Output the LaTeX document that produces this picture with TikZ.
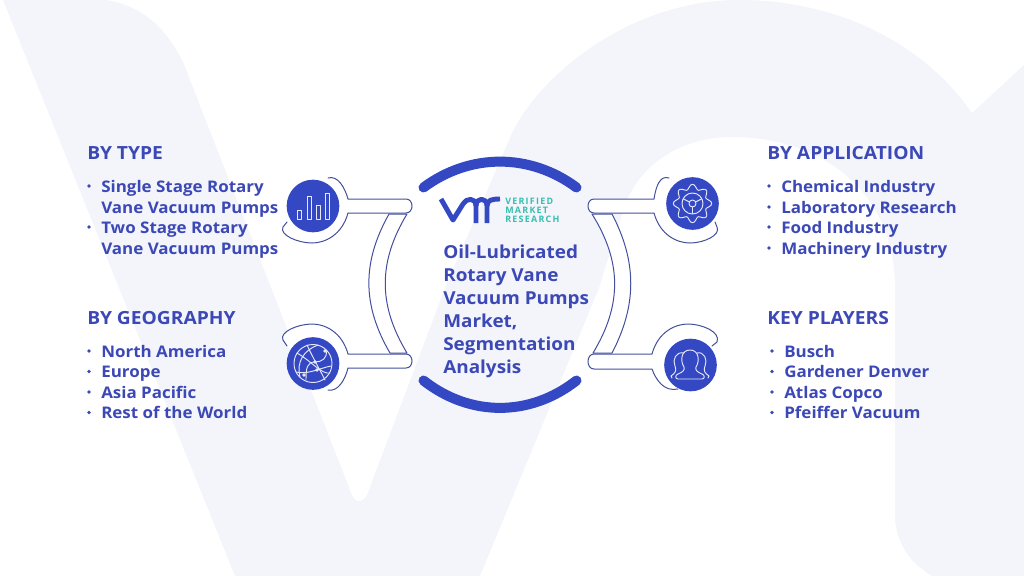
\documentclass[tikz,border=0pt]{standalone}
\usepackage{fontspec}
\setmainfont{Open Sans}[BoldFont=* Bold, FakeStretch=1.06]
\newfontfamily\logofont[LetterSpace=14]{Open Sans}
\definecolor{paleback}{HTML}{F3F5FB}
\definecolor{ink}{HTML}{3B48B6}
\definecolor{discblue}{HTML}{3448C4}
\definecolor{wire}{HTML}{444F9C}
\definecolor{brandteal}{HTML}{35BFAE}
\tikzset{
    head/.style={anchor=base west, inner sep=0pt, text=ink, font=\bfseries\fontsize{13.6}{15}\selectfont},
    item/.style={anchor=base west, inner sep=0pt, text=ink, font=\bfseries\fontsize{12}{14}\selectfont},
    title/.style={anchor=base west, inner sep=0pt, text=ink, font=\bfseries\fontsize{13.4}{16}\selectfont},
    brand/.style={anchor=base west, inner sep=0pt, text=brandteal, font=\logofont\bfseries\fontsize{6.7}{7}\selectfont},
    disc/.style={circle, fill=discblue, inner sep=0pt, minimum size=39.5pt},
    wireline/.style={draw=wire, line width=0.75pt, line cap=round, line join=round},
    icon/.style={draw=white!88!discblue, line width=0.7pt, line join=round, line cap=round}
}
\begin{document}
\begin{tikzpicture}[x=0.75pt, y=-0.75pt]
    \clip (0,0) rectangle (1024,576);

    % watermark
    \fill[paleback] (3,0) -- (105,0) .. controls (145,5) and (175,35) .. (190,80) -- (350,490)
        .. controls (354,504) and (362,504) .. (367,495) -- (445,288) -- (512,133)
        .. controls (540,75) and (630,0) .. (739,0) .. controls (840,0) and (925,45) .. (972,113)
        -- (1024,65) -- (1024,576) -- (932,576) .. controls (908,562) and (895,540) .. (895,515)
        -- (895,288) .. controls (895,190) and (820,137) .. (732,137)
        .. controls (680,137) and (640,165) .. (625,205) -- (599,288) -- (480,576) -- (235,576) -- cycle;

    % left brackets
    \filldraw[wireline, fill=white] (389,214) .. controls (362,262) and (362,305) .. (390,353)
        -- (407,353) .. controls (378,305) and (378,262) .. (407,214) -- cycle;
    \filldraw[wireline, fill=white] (328,178) .. controls (338,175) and (345,188) .. (348,199) -- (406,199)
        .. controls (414,199) and (414,213) .. (406,213) -- (348,213)
        .. controls (342,235) and (325,243) .. (312,243) .. controls (298,243) and (279,235) .. (283,227)
        -- (287,222);
    \filldraw[wireline, fill=white] (328,390) .. controls (338,392) and (345,380) .. (348,368) -- (406,368)
        .. controls (414,368) and (414,354) .. (406,354) -- (348,354)
        .. controls (342,332) and (325,324) .. (312,324) .. controls (298,324) and (279,332) .. (283,340)
        -- (287,346);

    % right brackets
    \filldraw[wireline, fill=white] (592,214) .. controls (622,262) and (622,305) .. (593,353)
        -- (612,353) .. controls (637,305) and (637,262) .. (612,214) -- cycle;
    \filldraw[wireline, fill=white] (669,178) .. controls (660,175) and (656,186) .. (654,199) -- (594,199)
        .. controls (586,199) and (586,213) .. (594,213) -- (654,213)
        .. controls (660,235) and (677,243) .. (690,243) .. controls (704,243) and (721,235) .. (717,227)
        -- (715,222);
    \filldraw[wireline, fill=white] (678,389) .. controls (664,392) and (656,380) .. (652,369) -- (594,369)
        .. controls (586,369) and (586,354) .. (594,354) -- (652,354)
        .. controls (658,332) and (675,324) .. (688,324) .. controls (702,324) and (721,332) .. (717,342)
        -- (712,346);

    % discs
    \node[disc] (D1) at (313,206) {};
    \node[disc] (D2) at (313,363.5) {};
    \node[disc] (D3) at (692.5,203.5) {};
    \node[disc] (D4) at (690.5,365) {};

    % bars
    \draw[icon] (297,210) rectangle (301,219);
    \draw[icon] (307,196) rectangle (311,219);
    \draw[icon] (316,205) rectangle (320,219);
    \draw[icon] (325,193) rectangle (329,219);

    % globe
    \draw[icon] (D2.center) circle (19);
    \draw[icon] (297,353) .. controls (310,360) and (322,375) .. (330,373);
    \draw[icon] (307,345) .. controls (313,358) and (320,370) .. (325,380);
    \draw[icon] (318,345) .. controls (304,350) and (296,362) .. (300,377);
    \draw[icon] (326,350) .. controls (328,358) and (322,362) .. (315,362) .. controls (307,362) and (306,368) .. (306,380);
    \draw[icon] (296,372) .. controls (308,375) and (320,368) .. (331,366);
    \fill[white!88!discblue] (315,362) circle (1.8) (325,351) circle (1.8) (317,370) circle (1.8) (304,375) circle (1.8);

    % gear
    \draw[icon, shift={(D3.center)}] plot[smooth, domain=0:360, samples=73] (\x:{16.8+2.4*cos(8*\x)}) -- cycle;
    \draw[icon] (D3.center) circle (10.5);
    \draw[icon] (D3.center) circle (3.5);
    \draw[icon] (683.5,199) -- (689.5,202) (701.5,199) -- (695.5,202) (692.5,207) -- (692.5,213.5);

    % people
    \draw[icon] (678,379) -- (702,379) .. controls (705,379) and (705,375) .. (702,374)
        .. controls (697,372) and (695,370) .. (696,367) .. controls (700,361) and (699,350) .. (690,350)
        .. controls (681,350) and (680,361) .. (684,367) .. controls (685,370) and (683,372) .. (678,374)
        .. controls (675,375) and (675,379) .. (678,379);
    \draw[icon] (684,353) .. controls (676,351) and (672,360) .. (675,366) .. controls (677,371) and (675,373) .. (671,376) -- (672,378);
    \draw[icon] (697,353) .. controls (704,351) and (708,360) .. (705,366) .. controls (703,371) and (705,373) .. (709,376) -- (708,378);

    % centre arcs
    \draw[draw=discblue, line width=7.5pt, line cap=round] (423.5,187.5) .. controls (470,153) and (530,153) .. (576.5,187.5);
    \draw[draw=discblue, line width=7.5pt, line cap=round] (423.5,380.5) .. controls (470,417) and (530,417) .. (576.5,380.5);

    % logo
    \draw[draw=discblue, line width=3.7pt, line join=round] (441,199) -- (453,220) -- (463,204)
        .. controls (466,198) and (476,197) .. (476,206) -- (476,223);
    \draw[draw=discblue, line width=3.7pt, line join=round] (476,206) .. controls (476,197) and (487,197) .. (487,206) -- (487,223);
    \draw[draw=discblue, line width=3.7pt] (487,206) .. controls (487,200) and (492,199) .. (500,199);
    \node[brand] (V) at (505,204) {VERIFIED};
    \node[brand] (M) at (505,213) {MARKET};
    \node[brand] (R) at (505,222) {RESEARCH};

    % title
    \node[title] (T1) at (443,258) {Oil-Lubricated};
    \node[title] (T2) at (443,281) {Rotary Vane};
    \node[title] (T3) at (443,304) {Vacuum Pumps};
    \node[title] (T4) at (443,327.5) {Market,};
    \node[title] (T5) at (443,350.5) {Segmentation};
    \node[title] (T6) at (443,373.5) {Analysis};

    % by type
    \node[head] (H1) at (87,159.3) {BY TYPE};
    \node[item] (A1) at (101,192.7) {Single Stage Rotary};
    \node[item] (A2) at (101,213) {Vane Vacuum Pumps};
    \node[item] (A3) at (101,233.5) {Two Stage Rotary};
    \node[item] (A4) at (101,254) {Vane Vacuum Pumps};

    % by geography
    \node[head] (H2) at (87,324.7) {BY GEOGRAPHY};
    \node[item] (B1) at (101,357) {North America};
    \node[item] (B2) at (101,377.5) {Europe};
    \node[item] (B3) at (101,398) {Asia Pacific};
    \node[item] (B4) at (101,418.5) {Rest of the World};

    % by application
    \node[head] (H3) at (767,159.3) {BY APPLICATION};
    \node[item] (C1) at (781,192.7) {Chemical Industry};
    \node[item] (C2) at (781,213) {Laboratory Research};
    \node[item] (C3) at (781,233.5) {Food Industry};
    \node[item] (C4) at (781,254) {Machinery Industry};

    % key players
    \node[head] (H4) at (767,324.7) {KEY PLAYERS};
    \node[item] (E1) at (784,357) {Busch};
    \node[item] (E2) at (784,377.5) {Gardener Denver};
    \node[item] (E3) at (784,398) {Atlas Copco};
    \node[item] (E4) at (784,418.5) {Pfeiffer Vacuum};

    % bullets
    \foreach \px/\py in {89/186, 89/227, 89/351, 89/371.5, 89/392, 89/412.5,
        769/186, 769/207, 769/227, 769/248, 772/351, 772/371.5, 772/392, 772/412.5}
        \fill[ink] (\px,\py) circle (1.9);
\end{tikzpicture}
\end{document}
